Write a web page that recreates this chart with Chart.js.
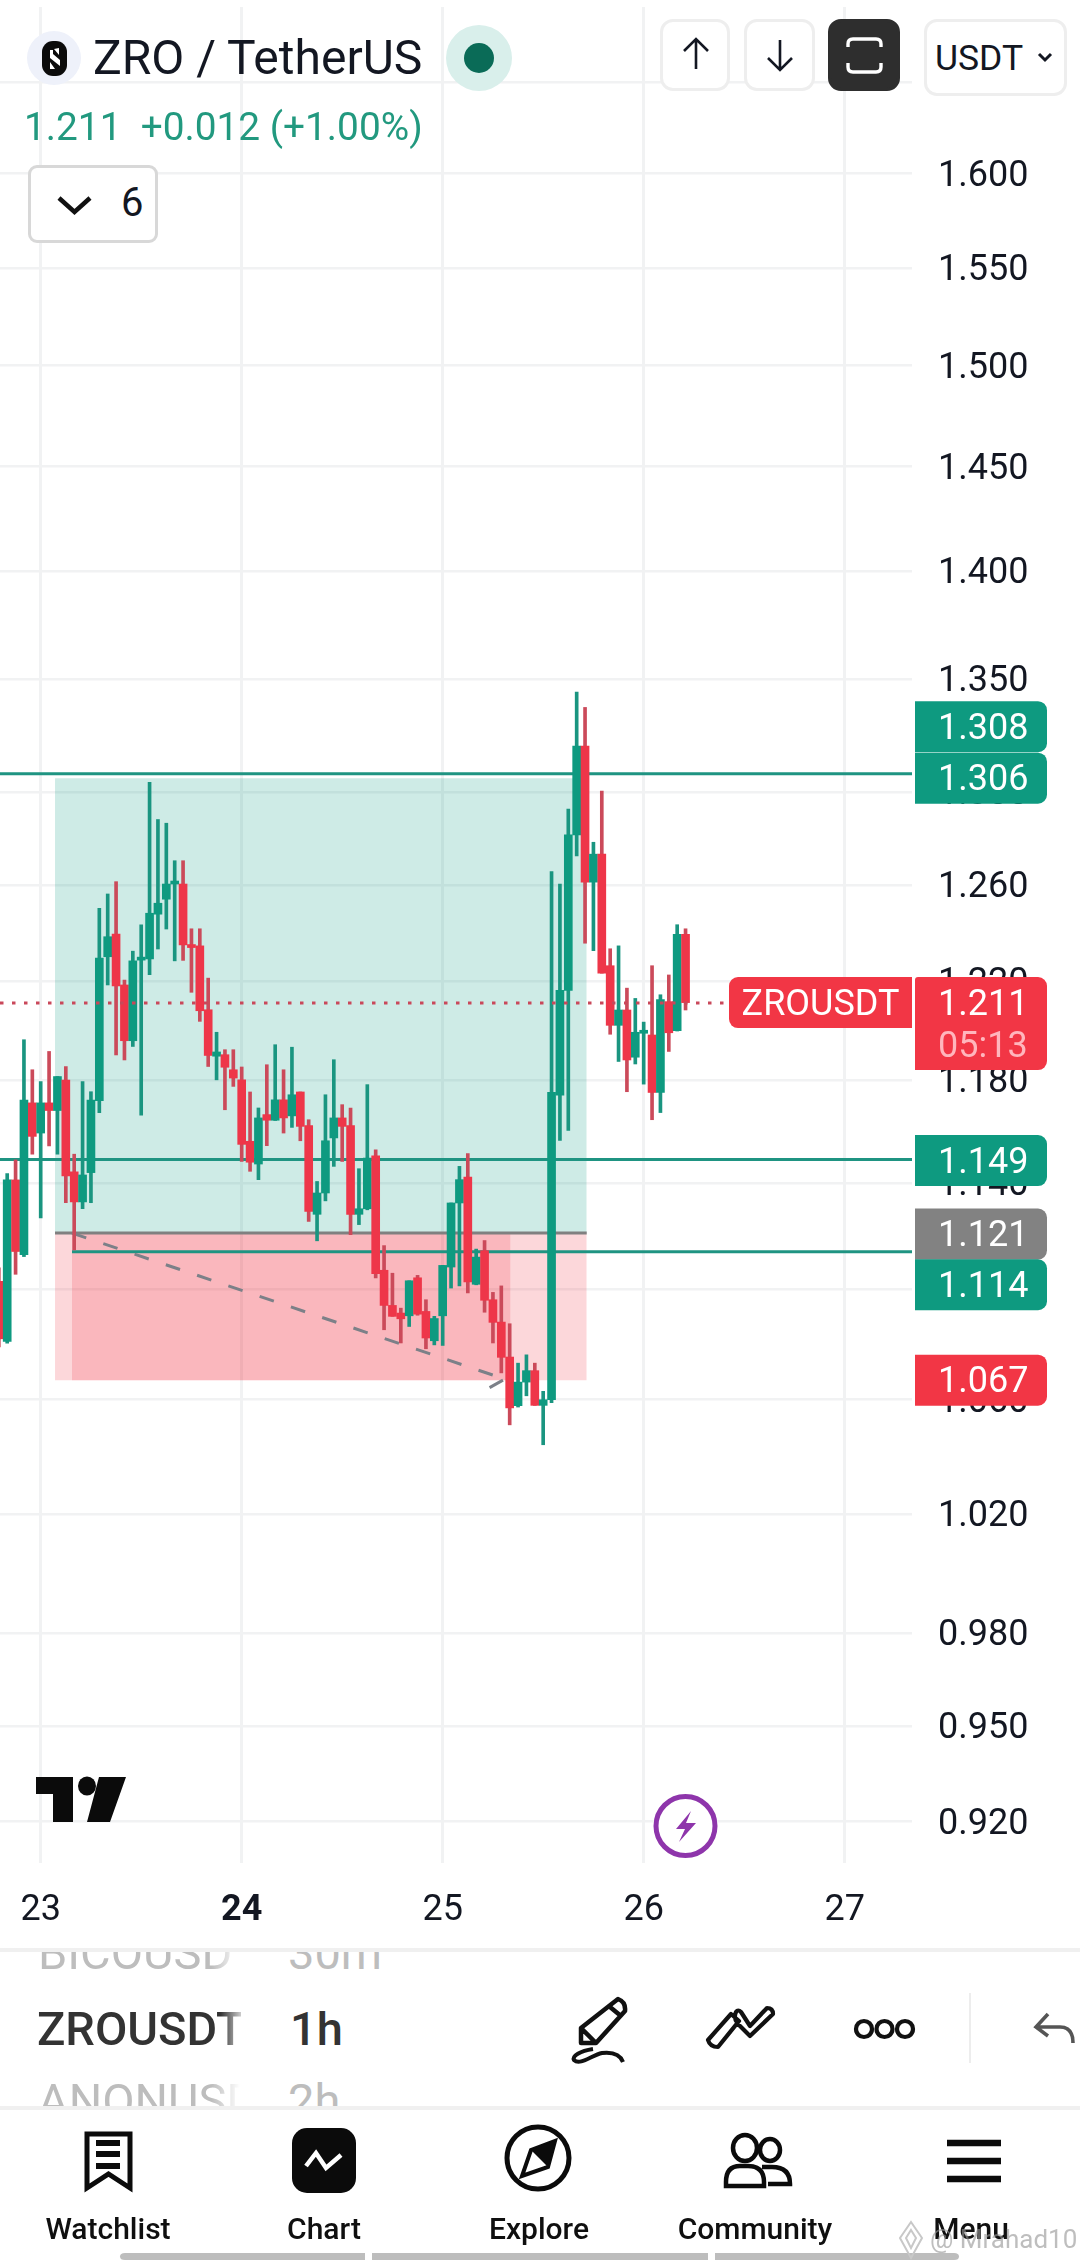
<!DOCTYPE html>
<html><head><meta charset="utf-8">
<script src="https://cdn.jsdelivr.net/npm/chart.js@4"></script>
<style>
html,body{margin:0;padding:0;background:#fff;}
body{width:1080px;height:2263px;position:relative;overflow:hidden;font-family:Roboto,sans-serif;color:#131722;}
canvas{position:absolute;left:0;top:0;}
.a{position:absolute;white-space:nowrap;}
.btn{position:absolute;box-sizing:border-box;background:#fff;border:3px solid #eeeeee;border-radius:13px;}
.sep{position:absolute;left:0;width:1080px;height:4px;background:#f0f0f0;}
.nav{position:absolute;top:2211px;font-size:30px;font-weight:500;transform:translateX(-50%);white-space:nowrap;color:#0f0f0f;}
svg{position:absolute;overflow:visible;}
.pick{position:absolute;font-size:47px;font-weight:500;white-space:nowrap;overflow:hidden;}
</style></head>
<body>
<canvas id="c" width="1080" height="1950"></canvas>

<!-- header -->
<svg style="left:0;top:0" width="560" height="100">
  <circle cx="54" cy="58" r="27" fill="#eef1fa"/>
  <rect x="42" y="41" width="25" height="35" rx="11" fill="#0b0b0b"/>
  <path d="M53 50 H50 V58 L60 66 V60 L53 54 Z M50 62 V69 H55 Z M59 48 V55 L54 49 Z" fill="#fff"/>
  <circle cx="479" cy="58" r="33" fill="#d9efeb"/>
  <circle cx="479" cy="58" r="15" fill="#0a6b57"/>
</svg>
<div class="a" style="left:93px;top:31px;font-size:48px;line-height:54px;">ZRO / TetherUS</div>
<div class="a" style="left:24px;top:105px;font-size:38.8px;line-height:44px;color:#22997f;">1.211&nbsp; +0.012 (+1.00%)</div>
<div class="btn" style="left:28px;top:165px;width:130px;height:78px;border-color:#d8d8d8;border-radius:9px;"></div>
<svg style="left:0;top:0" width="200" height="260"><path d="M59 198 L74.5 212 L90 198" fill="none" stroke="#111" stroke-width="4.5"/></svg>
<div class="a" style="left:121px;top:180px;font-size:40px;line-height:46px;">6</div>

<div class="btn" style="left:660px;top:19px;width:70px;height:72px;"></div>
<div class="btn" style="left:744px;top:19px;width:71px;height:72px;"></div>
<div class="btn" style="left:828px;top:19px;width:72px;height:72px;background:#2e2e2e;border-color:#2e2e2e;"></div>
<div class="btn" style="left:924px;top:19px;width:143px;height:77px;"></div>
<svg style="left:0;top:0" width="1080" height="100">
  <path d="M696 69 V39 M684 51 L696 39 L708 51" fill="none" stroke="#131722" stroke-width="2.6"/>
  <path d="M780 40 V70 M768 58 L780 70 L792 58" fill="none" stroke="#131722" stroke-width="2.6"/>
  <path d="M848 47 V44 Q848 39 853 39 H876 Q881 39 881 44 V47 M848 63 V67 Q848 72 853 72 H876 Q881 72 881 67 V63" fill="none" stroke="#fff" stroke-width="3.4"/>
  <path d="M1039 54 L1045 60 L1051 54" fill="none" stroke="#131722" stroke-width="3"/>
</svg>
<div class="a" style="left:935px;top:38px;font-size:35.5px;line-height:40px;">USDT</div>

<!-- chart logos -->
<svg style="left:0;top:0" width="760" height="1870">
  <path d="M36 1777 H73 V1822 H53 V1794 H36 Z M99 1777 H126 L110 1822 H87 Z" fill="#0b0b0b"/>
  <ellipse cx="87" cy="1786" rx="9" ry="9.5" fill="#0b0b0b"/>
  <circle cx="685.5" cy="1826" r="29.5" fill="#fff" stroke="#8e35ab" stroke-width="5"/>
  <path d="M691 1811 L676 1829 H685 L679 1842 L696 1823 H686 Z" fill="#8e35ab"/>
</svg>

<!-- symbol picker -->
<div class="sep" style="top:1948px;"></div>
<div class="a" style="left:0;top:1952px;width:240px;height:26px;overflow:hidden;-webkit-mask-image:linear-gradient(to right,#000 88%,transparent);">
  <div class="a" style="left:38px;top:-24px;font-size:47px;line-height:50px;color:#bdbdbd;">BICOUSDT</div></div>
<div class="a" style="left:288px;top:1952px;width:110px;height:26px;overflow:hidden;">
  <div class="a" style="left:0;top:-24px;font-size:47px;line-height:50px;color:#bdbdbd;">30m</div></div>
<div class="pick" style="left:37px;top:2002px;width:204px;line-height:54px;color:#333;-webkit-mask-image:linear-gradient(to right,#000 90%,rgba(0,0,0,.25));">ZROUSDT</div>
<div class="pick" style="left:290px;top:2002px;line-height:54px;color:#333;">1h</div>
<div class="a" style="left:0;top:2076px;width:240px;height:31px;overflow:hidden;-webkit-mask-image:linear-gradient(to right,#000 88%,transparent);">
  <div class="a" style="left:38px;top:0;font-size:47px;line-height:50px;color:#bdbdbd;">ANONUSDT</div></div>
<div class="a" style="left:288px;top:2076px;width:110px;height:31px;overflow:hidden;">
  <div class="a" style="left:0;top:0;font-size:47px;line-height:50px;color:#bdbdbd;">2h</div></div>

<svg style="left:0;top:0;" width="1080" height="2263">
  <!-- pencil -->
  <path d="M618 1999 Q626 2002 625 2011 L596 2043 H581 V2028 Z M581 2028 L596 2043 M610 2007 L621 2016" fill="none" stroke="#111" stroke-width="4.5" stroke-linejoin="round"/>
  <path d="M593 2049 C580 2051 572 2056 574 2060 C580 2066 592 2055 602 2053 C611 2052 620 2054 623 2062" fill="none" stroke="#111" stroke-width="4"/>
  <!-- lines -->
  <path d="M708 2040 L731 2014 L739 2021 L718 2047 Q710 2047 708 2040 Z M736 2012 Q733 2018 738 2024 L750 2036 L773 2014 Q773 2008 767 2008 L750 2026 L741 2012 Q738 2009 736 2012 Z" fill="none" stroke="#111" stroke-width="4.2" stroke-linejoin="round"/>
  <!-- dots -->
  <circle cx="864" cy="2029" r="8" fill="none" stroke="#111" stroke-width="4.2"/>
  <circle cx="884.5" cy="2029" r="8" fill="none" stroke="#111" stroke-width="4.2"/>
  <circle cx="905" cy="2029" r="8" fill="none" stroke="#111" stroke-width="4.2"/>
  <path d="M970 1993 V2063" stroke="#ededed" stroke-width="2"/>
  <!-- undo -->
  <path d="M1048 2014 L1036 2027 L1048 2036 M1036 2027 H1060 Q1073 2027 1073 2043" fill="none" stroke="#555" stroke-width="3.6"/>
  <!-- nav icons -->
  <path d="M87 2134 H130 V2188 L108.5 2174 L87 2188 Z" fill="none" stroke="#0b0b0b" stroke-width="5"/>
  <path d="M96 2143 H120 M96 2154 H120 M96 2166 H120" stroke="#0b0b0b" stroke-width="6"/>
  <rect x="292" y="2128" width="64" height="65" rx="15" fill="#0b0b0b"/>
  <path d="M306 2166 L316 2153 L326 2168 L341 2155" fill="none" stroke="#fff" stroke-width="4.5"/>
  <circle cx="538" cy="2158" r="31" fill="none" stroke="#0b0b0b" stroke-width="5"/>
  <path d="M555 2141 L548 2167 L522 2176 L531 2150 Z" fill="none" stroke="#0b0b0b" stroke-width="4"/>
  <path d="M555 2141 L548 2167 L531 2150 Z" fill="#0b0b0b"/>
  <ellipse cx="745" cy="2148" rx="12" ry="13" fill="none" stroke="#0b0b0b" stroke-width="4.5"/>
  <ellipse cx="770" cy="2150" rx="10" ry="11" fill="none" stroke="#0b0b0b" stroke-width="4.5"/>
  <path d="M726 2186 V2182 Q726 2166 740 2166 H748 Q764 2166 764 2182 V2186 Z" fill="#fff" stroke="#0b0b0b" stroke-width="4.5"/>
  <path d="M762 2167 H772 Q790 2167 790 2184 H768" fill="none" stroke="#0b0b0b" stroke-width="4.5"/>
  <path d="M947 2143 H1001 M947 2161 H1001 M947 2179 H1001" stroke="#0b0b0b" stroke-width="6.5"/>
  <!-- home strip -->
  <path d="M125 2253 H365 V2260 H125 Q120 2260 120 2256.5 Q120 2253 125 2253 Z" fill="#bdbdbd"/>
  <rect x="372" y="2253" width="336" height="7" fill="#bdbdbd"/>
  <path d="M715 2253 H954 Q959 2253 959 2256.5 Q959 2260 954 2260 H715 Z" fill="#bdbdbd"/>
</svg>
<div class="sep" style="top:2106px;"></div>
<div class="nav" style="left:108px;">Watchlist</div>
<div class="nav" style="left:324px;">Chart</div>
<div class="nav" style="left:539px;">Explore</div>
<div class="nav" style="left:755px;">Community</div>
<div class="nav" style="left:971px;">Menu</div>
<svg style="left:0;top:0" width="1080" height="2263"><path d="M911 2222 L922 2238 L911 2258 L900 2238 Z M911 2230 L916 2238 L911 2248 L906 2238 Z" fill="none" stroke="#c8c8c8" stroke-width="2"/></svg>
<div class="a" style="left:930px;top:2222px;font-size:26px;line-height:34px;color:rgba(150,150,150,.62);">@ Mrahad10</div>

<script>
// Candles, one per hour, first candle = 5 hours before 23 00:00
const opens = [1.1030,1.0810,1.1412,1.1129,1.1711,1.1593,1.1711,1.1681,1.1801,1.1443,1.1328,1.1440,1.1720,1.2300,1.2394,1.2184,1.1958,1.2286,1.2291,1.2477,1.2540,1.2604,1.2604,1.2346,1.2345,1.2083,1.1896,1.1902,1.1842,1.1802,1.1561,1.1473,1.1665,1.1643,1.1723,1.1660,1.1754,1.1622,1.1281,1.1362,1.1574,1.1652,1.1622,1.1281,1.1302,1.1505,1.1071,1.0941,1.0913,1.0903,1.1043,1.0919,1.0812,1.0903,1.1083,1.1324,1.1423,1.1019,1.1144,1.0962,1.0880,1.0753,1.0579,1.0663,1.0704,1.0580,1.0600,1.1741,1.2162,1.2814,1.3202,1.2612,1.2731,1.2263,1.2020,1.2082,1.1892,1.1988,1.1981,1.1752,1.2116,1.1998,1.2393];
const highs = [1.1080,1.1436,1.1489,1.1962,1.1842,1.1795,1.1915,1.1815,1.1855,1.1511,1.1795,1.1755,1.2502,1.2562,1.2614,1.2204,1.2323,1.2432,1.3042,1.2880,1.2864,1.2703,1.2703,1.2416,1.2416,1.2212,1.1992,1.1922,1.1922,1.1853,1.1754,1.1691,1.1862,1.1942,1.1842,1.1932,1.1754,1.1645,1.1406,1.1743,1.1882,1.1704,1.1691,1.1455,1.1783,1.1528,1.1163,1.1060,1.0931,1.1032,1.1052,1.0962,1.0901,1.1089,1.1324,1.1464,1.1513,1.1150,1.1182,1.0989,1.1013,1.0874,1.0731,1.0761,1.0731,1.0630,1.2657,1.2604,1.2925,1.3443,1.3374,1.2782,1.3004,1.2333,1.2345,1.2171,1.2129,1.2033,1.2263,1.2144,1.2225,1.2433,1.2416];
const lows = [1.0790,1.0803,1.1056,1.1122,1.1511,1.1267,1.1543,1.1511,1.1325,1.1147,1.1302,1.1325,1.1673,1.2184,1.1901,1.1881,1.1935,1.1663,1.2226,1.2332,1.2415,1.2283,1.2285,1.2154,1.2036,1.1855,1.1802,1.1684,1.1776,1.1483,1.1445,1.1413,1.1544,1.1642,1.1593,1.1615,1.1563,1.1254,1.1181,1.1332,1.1464,1.1483,1.1204,1.1242,1.1298,1.1043,1.0852,1.0901,1.0804,1.0864,1.0905,1.0783,1.0797,1.0795,1.1005,1.1013,1.0987,1.1017,1.0916,1.0804,1.0696,1.0511,1.0574,1.0614,1.0580,1.0441,1.0590,1.1564,1.1603,1.2724,1.2356,1.2325,1.2232,1.1984,1.1875,1.1755,1.1865,1.1785,1.1645,1.1673,1.1915,1.1997,1.2082];
const closes = [1.0819,1.1412,1.1141,1.1722,1.1580,1.1711,1.1681,1.1815,1.1427,1.1328,1.1431,1.1722,1.2294,1.2383,1.2180,1.1958,1.2283,1.2298,1.2481,1.2523,1.2604,1.2615,1.2349,1.2338,1.2079,1.1899,1.1913,1.1852,1.1809,1.1549,1.1480,1.1652,1.1643,1.1723,1.1652,1.1743,1.1619,1.1292,1.1362,1.1563,1.1652,1.1619,1.1281,1.1302,1.1496,1.1058,1.0941,1.0901,1.0892,1.1032,1.0909,1.0822,1.0893,1.1089,1.1324,1.1413,1.1028,1.1120,1.0960,1.0879,1.0752,1.0571,1.0663,1.0704,1.0580,1.0600,1.1753,1.2162,1.2814,1.3202,1.2612,1.2731,1.2232,1.2020,1.2082,1.1881,1.1992,1.1997,1.1752,1.2124,1.1990,1.2393,1.2112];
const firstHour = -5;

const dayTicks = [0,24,48,72,96];
const dayLabels = ['23','24','25','26','27'];
const priceTicks = [1.65,1.6,1.55,1.5,1.45,1.4,1.35,1.3,1.26,1.22,1.18,1.14,1.1,1.06,1.02,0.98,0.95,0.92];

// Position tool and drawn levels
const targetLevel = 1.306, entryLevel = 1.121, stopLevel = 1.067;
const boxStart = 1.71, boxEnd = 65.2, innerStart = 3.74, innerEnd = 56.1;
const lastPrice = 1.211, lastPriceLabelEnd = 82.2;
const levelTop = 1.308, levelMid = 1.149, levelLow = 1.114;
const trendA = [[3.74,1.121],[55.2,1.0676]];
const trendB = [[53.6,1.0643],[55.2,1.0670]];

const xMin = -4.86, xMax = 104.04, yMin = 0.9073, yMax = 1.692;

const GREEN='#0e9a80', RED='#ee3649', GREENW='#1a9580', REDW='#cb4a5a', TEAL='#1f9482';
const hours = opens.map((_,i)=>i+firstHour);
const isUp = i => closes[i] >= opens[i];

const rect = (x0,x1,y0,y1,color,order) => ({type:'line',order,data:[{x:x0,y:y0},{x:x1,y:y0}],
  borderWidth:0,borderColor:'transparent',backgroundColor:color,fill:{value:y1},pointRadius:0});
const line = (pts,color,width,dash,order) => ({type:'line',order,data:pts.map(p=>({x:p[0],y:p[1]})),
  borderColor:color,borderWidth:width,borderDash:dash||[],pointRadius:0,fill:false,tension:0});

const noPad = s => { s.paddingTop=0; s.paddingBottom=0; s.paddingLeft=0; s.paddingRight=0; };

const badgePlugin = {id:'badges',afterDraw(chart){
  const g=chart.ctx, y=chart.scales.y, left=915, w=132, h=51, r=9;
  const font='36px Roboto';
  const box=(x,top,bw,bh,c,rad)=>{g.fillStyle=c;g.beginPath();g.roundRect(x,top,bw,bh,rad);g.fill();};
  g.save(); g.textBaseline='middle'; g.textAlign='left'; g.font=font;
  const list=[[levelTop,GREEN,-47],[targetLevel,GREEN,0],[levelMid,GREEN,1],[entryLevel,'#828282',1],[levelLow,GREEN,33],[stopLevel,'#f23645',0]];
  for(const [v,c,shift] of list){
    const cy=y.getPixelForValue(v)+shift;
    box(left,cy-h/2,w,h,c,[0,r,r,0]);
    g.fillStyle='#fff'; g.fillText(v.toFixed(3),938,cy+3);
  }
  const cy=y.getPixelForValue(lastPrice);
  box(left,cy-26,w,93,'#f23645',[3,r,r,0]);
  box(729,cy-26,183,51,'#f23645',[9,0,0,9]);
  g.fillStyle='#fff'; g.fillText(lastPrice.toFixed(3),938,cy+3);
  g.fillStyle='#ffb6bd'; g.fillText('05:13',938,cy+45);
  g.fillStyle='#fff'; g.textAlign='center'; g.fillText('ZROUSDT',820.5,cy+3);
  g.restore();
}};

new Chart(document.getElementById('c'),{
  type:'bar',
  data:{datasets:[
    rect(boxStart,boxEnd,targetLevel,entryLevel,'rgba(8,153,129,.2)',20),
    rect(boxStart,boxEnd,entryLevel,stopLevel,'rgba(242,54,69,.2)',19),
    rect(innerStart,innerEnd,entryLevel,stopLevel,'rgba(242,54,69,.2)',18),
    line([[xMin,levelTop],[xMax,levelTop]],TEAL,3,null,15),
    line([[xMin,levelMid],[xMax,levelMid]],TEAL,3,null,15),
    line([[innerStart,levelLow],[xMax,levelLow]],TEAL,3,null,15),
    line([[boxStart,entryLevel],[boxEnd,entryLevel]],'#808080',3,null,14),
    line(trendA,'#7c8088',3,[15,18],13),
    line(trendB,'#7c8088',3,null,13),
    {label:'wick',order:3,grouped:false,barThickness:3,minBarLength:1,
      data:hours.map((h,i)=>({x:h,y:[lows[i],highs[i]]})),
      backgroundColor:hours.map((h,i)=>isUp(i)?GREENW:REDW)},
    {label:'body',order:2,grouped:false,barThickness:8,minBarLength:3,
      data:hours.map((h,i)=>({x:h,y:[Math.min(opens[i],closes[i]),Math.max(opens[i],closes[i])]})),
      backgroundColor:hours.map((h,i)=>isUp(i)?GREEN:RED)},
    line([[xMin,lastPrice],[lastPriceLabelEnd,lastPrice]],'#c9485a',3,[3.5,8.5],1)
  ]},
  options:{
    responsive:false,animation:false,devicePixelRatio:1,
    layout:{padding:{top:7,left:0,right:0,bottom:0}},
    plugins:{legend:{display:false},tooltip:{enabled:false}},
    events:[],
    scales:{
      x:{type:'linear',min:xMin,max:xMax,offset:false,
        grid:{offset:false,color:'#f1f2f3',lineWidth:3,drawTicks:false},border:{display:false},
        afterBuildTicks(s){s.ticks=dayTicks.map(v=>({value:v}));},
        afterFit(s){s.height=87;noPad(s);},
        ticks:{autoSkip:false,maxRotation:0,padding:26,color:'#131722',
          font:c=>({family:'Roboto',size:36,weight:c.tick&&c.tick.value===24?'700':'400'}),
          callback:v=>dayLabels[dayTicks.indexOf(v)]}},
      y:{type:'logarithmic',position:'right',min:yMin,max:yMax,
        grid:{color:'#f1f2f3',lineWidth:2.5,drawTicks:false},border:{display:false},
        afterBuildTicks(s){s.ticks=priceTicks.map(v=>({value:v}));},
        afterFit(s){s.width=168;noPad(s);},
        ticks:{autoSkip:false,padding:26,labelOffset:3,color:'#131722',font:{family:'Roboto',size:36},
          callback:v=>Number(v).toFixed(3)}}
    }
  },
  plugins:[badgePlugin]
});
</script>
</body></html>
